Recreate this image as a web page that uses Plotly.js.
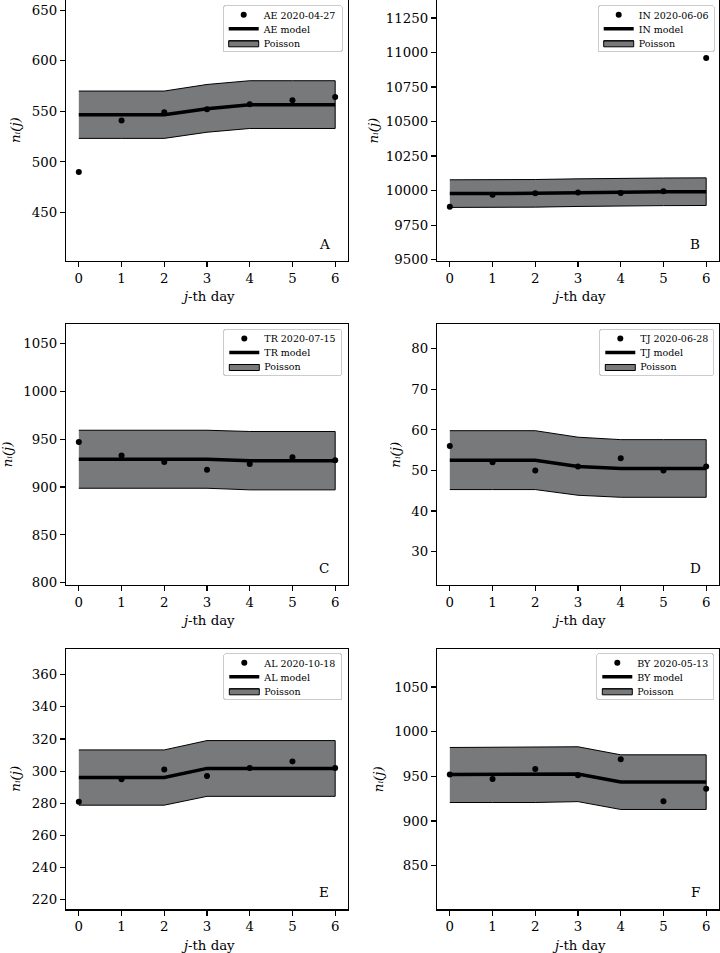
<!DOCTYPE html>
<html><head><meta charset="utf-8">
<script src="https://cdn.plot.ly/plotly-3.0.1.min.js"></script>
<style>html,body{margin:0;padding:0;background:#fff}</style>
</head><body>
<div id="plot" style="width:720px;height:953px"></div>
<script>
const days = [0, 1, 2, 3, 4, 5, 6];
const panelLetters = ['A', 'B', 'C', 'D', 'E', 'F'];
const countryCodes = ['AE', 'IN', 'TR', 'TJ', 'AL', 'BY'];
const startDates = ['2020-04-27', '2020-06-06', '2020-07-15', '2020-06-28', '2020-10-18', '2020-05-13'];

const obsAE = [490, 541, 549, 552, 557, 561, 564];
const modelAE = [546.5, 546.5, 546.5, 552.5, 556.5, 556.5, 556.5];
const upperAE = [570, 570, 570, 576.5, 580.2, 580.2, 580.2];
const lowerAE = [523.2, 523.2, 523.2, 529.3, 533, 533, 533];

const obsIN = [9882, 9969, 9981, 9986, 9983, 9995, 10960];
const modelIN = [9978, 9978, 9980, 9985, 9990, 9991, 9992];
const upperIN = [10078, 10078, 10080, 10085, 10090, 10091, 10092];
const lowerIN = [9878, 9878, 9880, 9885, 9890, 9891, 9892];

const obsTR = [947, 933, 926, 918, 924, 931, 928];
const modelTR = [929, 929, 929, 929, 927.5, 927.5, 927.5];
const upperTR = [959.3, 959.3, 959.3, 959.3, 958, 958, 958];
const lowerTR = [898.7, 898.7, 898.7, 898.7, 897, 897, 897];

const obsTJ = [56, 52, 50, 51, 53, 50, 51];
const modelTJ = [52.5, 52.5, 52.5, 51, 50.5, 50.5, 50.5];
const upperTJ = [59.8, 59.8, 59.8, 58.2, 57.6, 57.6, 57.6];
const lowerTJ = [45.3, 45.3, 45.3, 43.9, 43.4, 43.4, 43.4];

const obsAL = [281, 295, 301, 297, 302, 306, 302];
const modelAL = [296, 296, 296, 301.7, 301.7, 301.7, 301.7];
const upperAL = [313.2, 313.2, 313.2, 319, 319, 319, 319];
const lowerAL = [278.8, 278.8, 278.8, 284.3, 284.3, 284.3, 284.3];

const obsBY = [952, 947, 958, 951, 969, 922, 936];
const modelBY = [952, 952, 952, 952.5, 943.5, 943.5, 943.5];
const upperBY = [982.2, 982.2, 982.2, 983, 974, 974, 974];
const lowerBY = [920.6, 920.6, 920.6, 921.6, 912.8, 912.8, 912.8];

const yRanges = [[402, 660], [9490, 11380], [797.6, 1070], [21.8, 86], [214, 376], [801, 1092.5]];
const yDticks = [50, 250, 50, 10, 20, 50];
const xTitleMain = '-th day';
const xTitleVar = 'j';
const yTitle = 'n\u1D62(j)';

const panels = [
  [obsAE, modelAE, upperAE, lowerAE],
  [obsIN, modelIN, upperIN, lowerIN],
  [obsTR, modelTR, upperTR, lowerTR],
  [obsTJ, modelTJ, upperTJ, lowerTJ],
  [obsAL, modelAL, upperAL, lowerAL],
  [obsBY, modelBY, upperBY, lowerBY]
];

const H = 953, W = 720;
const xDomL = [66 / W, 348 / W], xDomR = [437 / W, 719 / W];
const yDoms = [[1 - 261 / H, 1], [1 - 585 / H, 1 - 324.3 / H], [1 - 909.3 / H, 1 - 649 / H]];
const legendTops = [5.3, 5.3, 329, 329, 653.3, 653.3];
const legendRights = [342.7, 714.7, 342.3, 714.3, 342.3, 714.3];
const yTitleX = [15.5, 373, 7.7, 396, 15.5, 378];

const FONT = 'DejaVu Serif, Liberation Serif, serif';
const traces = [];
const layout = {
  width: W, height: H,
  margin: {l: 0, r: 0, t: 0, b: 0},
  paper_bgcolor: '#fff', plot_bgcolor: '#fff',
  font: {family: FONT, color: '#000', size: 13},
  annotations: [],
  showlegend: true
};

panels.forEach((p, i) => {
  const [obs, model, upper, lower] = p;
  const n = i + 1;
  const sfx = n === 1 ? '' : String(n);
  const xa = 'x' + sfx, ya = 'y' + sfx;
  const lg = 'legend' + sfx;
  const col = i % 2, row = Math.floor(i / 2);
  const bandX = days.concat(days.slice().reverse());
  const bandY = upper.concat(lower.slice().reverse());
  traces.push({
    x: bandX, y: bandY, xaxis: xa, yaxis: ya, legend: lg,
    type: 'scatter', mode: 'lines', fill: 'toself',
    fillcolor: '#77797b', line: {color: '#000', width: 1},
    name: 'Poisson', legendrank: 3, hoverinfo: 'skip'
  });
  traces.push({
    x: days, y: model, xaxis: xa, yaxis: ya, legend: lg,
    type: 'scatter', mode: 'lines', line: {color: '#000', width: 3.5},
    name: countryCodes[i] + ' model', legendrank: 2
  });
  traces.push({
    x: days, y: obs, xaxis: xa, yaxis: ya, legend: lg,
    type: 'scatter', mode: 'markers', marker: {color: '#000', size: 6},
    name: countryCodes[i] + ' ' + startDates[i], legendrank: 1, cliponaxis: false
  });
  const axCommon = {
    showline: true, mirror: true, linecolor: '#000', linewidth: 1.2,
    ticks: 'outside', ticklen: 5, tickwidth: 1.2, tickcolor: '#000',
    showgrid: false, zeroline: false, automargin: false,
    exponentformat: 'none', separatethousands: false,
    tickfont: {family: FONT, size: 13.3, color: '#000'}
  };
  layout['xaxis' + sfx] = Object.assign({}, axCommon, {
    domain: col === 0 ? xDomL : xDomR, anchor: ya,
    range: [-0.3, 6.3], tickvals: days, ticktext: days.map(String)
  });
  layout['yaxis' + sfx] = Object.assign({}, axCommon, {
    domain: yDoms[row], anchor: xa, range: yRanges[i], dtick: yDticks[i], tick0: 0,
    tickformat: 'd'
  });
  layout[lg] = {
    x: legendRights[i] / W, xanchor: 'right', y: 1 - legendTops[i] / H, yanchor: 'top',
    bgcolor: 'rgba(255,255,255,0.85)', bordercolor: '#cccccc', borderwidth: 1,
    font: {family: FONT, size: 9.5, color: '#000'}, traceorder: 'normal',
    itemwidth: 30, tracegroupgap: 0
  };
  layout.annotations.push({
    xref: xa + ' domain', yref: ya + ' domain', x: 1 - 24 / 282, y: 17 / 261,
    text: panelLetters[i], showarrow: false, xanchor: 'center', yanchor: 'middle',
    font: {family: FONT, size: 13.5, color: '#000'}
  });
  const dom = col === 0 ? xDomL : xDomR;
  const ydom = yDoms[row];
  const axisBottomPx = (1 - ydom[0]) * H;
  const xc = (dom[0] + dom[1]) / 2;
  const ty = 1 - (axisBottomPx + 35.7) / H;
  layout.annotations.push({
    xref: 'paper', yref: 'paper', x: xc, y: ty, xshift: -18, borderpad: 0,
    text: xTitleVar, showarrow: false, xanchor: 'right', yanchor: 'middle',
    font: {family: FONT, size: 13.3, color: '#000', style: 'italic'}
  });
  layout.annotations.push({
    xref: 'paper', yref: 'paper', x: xc, y: ty, xshift: -20, borderpad: 0,
    text: xTitleMain, showarrow: false, xanchor: 'left', yanchor: 'middle',
    font: {family: FONT, size: 13.3, color: '#000'}
  });
  layout.annotations.push({
    xref: 'paper', yref: 'paper', x: yTitleX[i] / W, y: (ydom[0] + ydom[1]) / 2,
    text: yTitle, showarrow: false, textangle: -90,
    xanchor: 'center', yanchor: 'middle',
    font: {family: FONT, size: 13.3, color: '#000', style: 'italic'}
  });
});

Plotly.newPlot('plot', traces, layout, {staticPlot: true, displayModeBar: false}).then(() => {
  // compact legend rows (14px per row) and outlined patch for the band entry
  document.querySelectorAll('g.infolayer > g').forEach(g => {
    const cls = g.getAttribute('class') || '';
    if (!/^legend\d*$/.test(cls)) return;
    const items = Array.from(g.querySelectorAll('g.traces')).map(t => {
      const m = /translate\(\s*([-\d.e]+)[ ,]+([-\d.e]+)\s*\)/.exec(t.getAttribute('transform') || '');
      return {t, x: m ? parseFloat(m[1]) : 0, y: m ? parseFloat(m[2]) : 0};
    }).sort((a, b) => a.y - b.y);
    items.forEach((it, k) => {
      it.t.setAttribute('transform', 'translate(' + it.x + ',' + (9.5 + 14 * k) + ')');
    });
    g.querySelectorAll('.legendfill path').forEach(pth => {
      pth.style.stroke = '#000';
      pth.style.strokeWidth = '1px';
    });
    const bg = g.querySelector('rect.bg');
    if (bg) { bg.setAttribute('height', 46); bg.setAttribute('rx', 2); bg.setAttribute('ry', 2); }
  });
});
</script>
</body></html>
